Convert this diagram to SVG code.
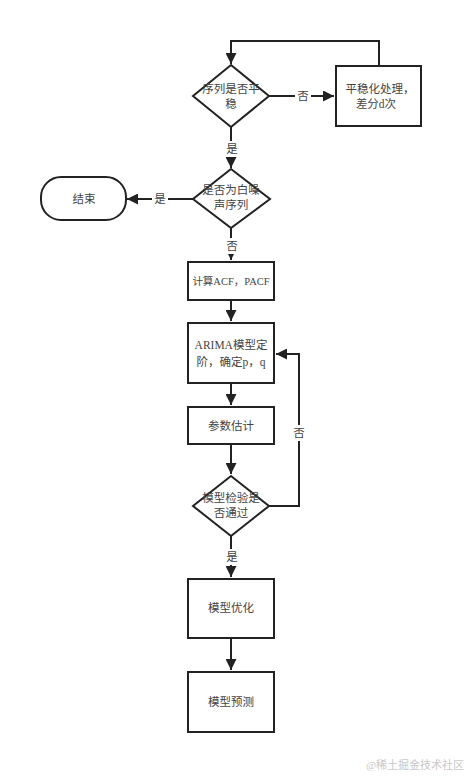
<svg xmlns="http://www.w3.org/2000/svg" width="474" height="784" viewBox="0 0 474 784">
<style>
.s{fill:#fff;stroke:#222;stroke-width:2}
.c{fill:none;stroke:#222;stroke-width:2}
text{font-family:"Liberation Serif","Noto Sans CJK SC",serif;font-size:11.5px;fill:#444;text-anchor:middle}
.lb{fill:#fff;stroke:none}
</style>
<defs>
<marker id="a" viewBox="0 0 10 10" refX="10" refY="5" markerWidth="5.5" markerHeight="5.5" orient="auto" markerUnits="strokeWidth">
<path d="M0,0 L10,5 L0,10 z" fill="#222"/>
</marker>
</defs>
<rect width="474" height="784" fill="#fff"/>
<g id="connectors">
<path class="c" d="M379,65 V41 H231 V64" marker-end="url(#a)"/>
<path class="c" d="M269,96 H334" marker-end="url(#a)"/>
<path class="c" d="M231,127 V168" marker-end="url(#a)"/>
<path class="c" d="M193,199 H127" marker-end="url(#a)"/>
<path class="c" d="M231,228 V260" marker-end="url(#a)"/>
<path class="c" d="M231,300 V321" marker-end="url(#a)"/>
<path class="c" d="M231,383 V405" marker-end="url(#a)"/>
<path class="c" d="M231,444 V474" marker-end="url(#a)"/>
<path class="c" d="M269,506 H299 V354 H276" marker-end="url(#a)"/>
<path class="c" d="M231,536 V577" marker-end="url(#a)"/>
<path class="c" d="M231,638 V670" marker-end="url(#a)"/>
<rect class="lb" x="295" y="88" width="16" height="16"/>
<text x="303" y="100">否</text>
<rect class="lb" x="225" y="141" width="14" height="16"/>
<text x="232" y="153">是</text>
<rect class="lb" x="152" y="191" width="16" height="16"/>
<text x="160" y="203">是</text>
<rect class="lb" x="224" y="238" width="14" height="16"/>
<text x="232" y="250">否</text>
<rect class="lb" x="292" y="425" width="14" height="16"/>
<text x="299" y="437">否</text>
<rect class="lb" x="225" y="549" width="14" height="16"/>
<text x="232" y="561">是</text>
</g>
<g id="n1">
<polygon class="s" points="231,65 269,96 231,127 193,96"/>
<text x="231" y="93">序列是否平</text>
<text x="231" y="108">稳</text>
</g>
<g id="n2">
<rect class="s" x="336" y="66" width="85" height="60"/>
<text x="380" y="93">平稳化处理，</text>
<text x="376" y="108">差分d次</text>
</g>
<g id="n3">
<polygon class="s" points="231,169 270,199 231,228 193,199"/>
<text x="231" y="194">是否为白噪</text>
<text x="231" y="209">声序列</text>
</g>
<g id="n4">
<rect class="s" x="41" y="177" width="85" height="43" rx="20" ry="20"/>
<text x="84" y="203">结束</text>
</g>
<g id="n5">
<rect class="s" x="188" y="262" width="86" height="38"/>
<text x="231" y="285" style="font-size:10.5px">计算ACF，PACF</text>
</g>
<g id="n6">
<rect class="s" x="188" y="323" width="86" height="60"/>
<text x="231" y="349">ARIMA模型定</text>
<text x="231" y="366">阶，确定p，q</text>
</g>
<g id="n7">
<rect class="s" x="188" y="407" width="86" height="37"/>
<text x="231" y="430">参数估计</text>
</g>
<g id="n8">
<polygon class="s" points="231,476 269,506 231,536 193,506"/>
<text x="231" y="502">模型检验是</text>
<text x="231" y="517">否通过</text>
</g>
<g id="n9">
<rect class="s" x="188" y="579" width="86" height="59"/>
<text x="231" y="612">模型优化</text>
</g>
<g id="n10">
<rect class="s" x="188" y="672" width="86" height="60"/>
<text x="231" y="706">模型预测</text>
</g>
<text x="415" y="769" style="fill:#c8c8c8;font-size:11px">@稀土掘金技术社区</text>
</svg>
